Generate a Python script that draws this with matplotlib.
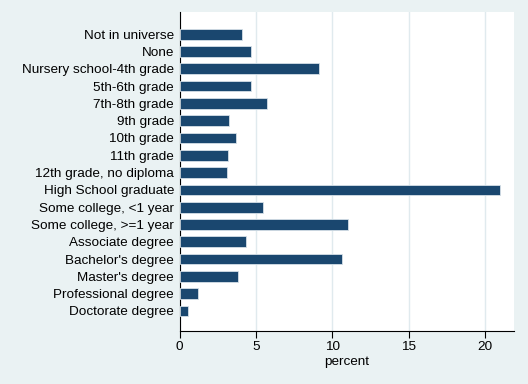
import matplotlib.pyplot as plt

categories = ['Not in universe', 'None', 'Nursery school-4th grade', '5th-6th grade',
              '7th-8th grade', '9th grade', '10th grade', '11th grade',
              '12th grade, no diploma', 'High School graduate', 'Some college, <1 year',
              'Some college, >=1 year', 'Associate degree', "Bachelor's degree",
              "Master's degree", 'Professional degree', 'Doctorate degree']
percent = [4.07, 4.67, 9.10, 4.65, 5.76, 3.21, 3.69, 3.15, 3.10, 21.0, 5.44,
           11.06, 4.35, 10.62, 3.82, 1.21, 0.58]
xticks = [0, 5, 10, 15, 20]

plt.rcParams['font.family'] = ['Liberation Sans', 'DejaVu Sans']
bg = '#EAF2F3'
fig = plt.figure(figsize=(5.28, 3.84), dpi=100, facecolor=bg)
ax = fig.add_axes([0.34, 0.138, 0.6335, 0.831])
ax.set_facecolor('white')

pos = list(range(len(categories)))
ax.barh(pos, percent, height=0.62, color='#1A476F', edgecolor='#D5E0E8',
        linewidth=0.6, zorder=3)

ax.set_ylim(len(categories) - 1 + 1.16, -1.29)
ax.set_xlim(0, 21.9)
ax.set_yticks(pos)
ax.set_yticklabels(categories, fontsize=9.7)
ax.tick_params(axis='y', length=0, pad=4)
ax.set_xticks(xticks)
ax.tick_params(axis='x', labelsize=9.7, length=5, width=0.8, direction='out', pad=2.5)
ax.xaxis.grid(True, color='#E0EAEE', linewidth=1.0, zorder=0)
ax.set_xlabel('percent', fontsize=9.7, labelpad=1.5)

for s in ['top', 'right']:
    ax.spines[s].set_visible(False)
for s in ['left', 'bottom']:
    ax.spines[s].set_color('black')
    ax.spines[s].set_linewidth(0.8)

fig.savefig('out.png', dpi=100, facecolor=bg)
